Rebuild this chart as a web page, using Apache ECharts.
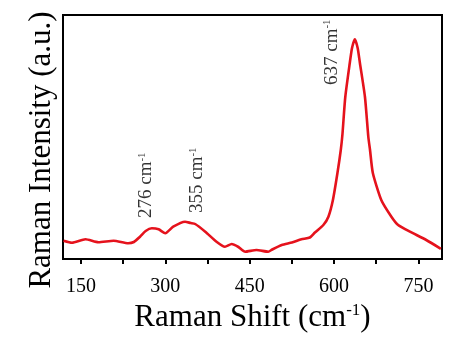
<!DOCTYPE html>
<html>
<head>
<meta charset="utf-8">
<script src="https://cdn.jsdelivr.net/npm/echarts@6/dist/echarts.min.js"></script>
<style>
  html, body { margin: 0; padding: 0; background: #fff; }
  #chart { width: 474px; height: 351px; }
</style>
</head>
<body>
<div id="chart"></div>
<script>
// Raman shift (cm-1) and intensity (a.u.)
const shift = [119, 134, 158, 181, 208, 234, 244, 255, 265, 276, 288, 300, 314, 335, 345, 353,
  371, 391, 406, 418, 430, 442, 462, 483, 490, 507, 525, 542, 557, 566, 581, 590, 598, 606,
  612, 615, 620, 628, 632, 637, 642, 646, 655, 661, 664, 669, 684, 702, 714, 735, 764, 790];
const intensity = [18.3, 16.3, 19.7, 16.7, 18.3, 15.7, 17, 22.3, 28, 30.7, 29.7, 25.7, 32.3,
  37.3, 36, 35, 27.3, 17.3, 12.3, 15, 12, 7.3, 9, 7.3, 9.5, 14, 16.5, 19.7, 21.5, 26.5, 34,
  42.3, 59, 85.7, 109, 125, 162, 196, 211, 219.7, 211, 196, 162, 122, 109, 86, 59, 42.3, 34,
  27.3, 19, 10.2];

const labelTicks = [150, 300, 450, 600, 750];
const allTicks = [150, 225, 300, 375, 450, 525, 600, 675, 750];

// peak annotations: text, x position, y position (bottom of text)
const peakNames = ['276', '355', '637'];
const peakX = [266, 357, 596];
const peakY = [41, 46, 174];

const chart = echarts.init(document.getElementById('chart'));
const serif = 'Liberation Serif';
const red = '#e5121c';

chart.setOption({
  animation: false,
  grid: {
    left: 63, right: 32, top: 15, bottom: 92,
    outerBoundsMode: 'none',
    show: true, borderColor: '#000', borderWidth: 2
  },
  xAxis: {
    type: 'value',
    min: 118, max: 792,
    name: '{a|Raman Shift (cm}{s|-1}{a|)}',
    nameLocation: 'middle',
    nameGap: 36,
    nameTextStyle: {
      rich: {
        a: { fontFamily: serif, fontSize: 31, color: '#000' },
        s: { fontFamily: serif, fontSize: 17, color: '#000', verticalAlign: 'top', padding: [0, 0, 14, 0] }
      }
    },
    axisLine: { show: true, onZero: false, lineStyle: { color: '#000', width: 2 } },
    axisTick: { show: true, inside: false, length: 5, lineStyle: { color: '#000', width: 2 }, customValues: allTicks },
    axisLabel: { fontFamily: serif, fontSize: 20, color: '#000', margin: 18, customValues: labelTicks },
    splitLine: { show: false }
  },
  yAxis: {
    type: 'value',
    min: 0, max: 244,
    name: 'Raman Intensity (a.u.)',
    nameLocation: 'middle',
    nameGap: 6,
    nameTextStyle: { fontFamily: serif, fontSize: 31, color: '#000', padding: [0, 26, 0, 0] },
    axisLine: { show: true, lineStyle: { color: '#000', width: 2 } },
    axisTick: { show: false },
    axisLabel: { show: false },
    splitLine: { show: false }
  },
  series: [
    {
      type: 'line',
      data: shift.map((s, i) => [s, intensity[i]]),
      smooth: 0.2,
      showSymbol: false,
      lineStyle: { color: red, width: 2.6 }
    },
    {
      type: 'scatter',
      symbolSize: 0,
      silent: true,
      data: peakNames.map((n, i) => ({ value: [peakX[i], peakY[i]], name: n })),
      label: {
        show: true,
        position: [0, 0],
        align: 'left',
        verticalAlign: 'middle',
        rotate: 90,
        formatter: p => '{a|' + p.name + ' cm}{s|-1}',
        rich: {
          a: { fontFamily: serif, fontSize: 19, color: '#000' },
          s: { fontFamily: serif, fontSize: 11, color: '#000', verticalAlign: 'top', padding: [0, 0, 9, 0] }
        }
      }
    }
  ]
});
</script>
</body>
</html>
